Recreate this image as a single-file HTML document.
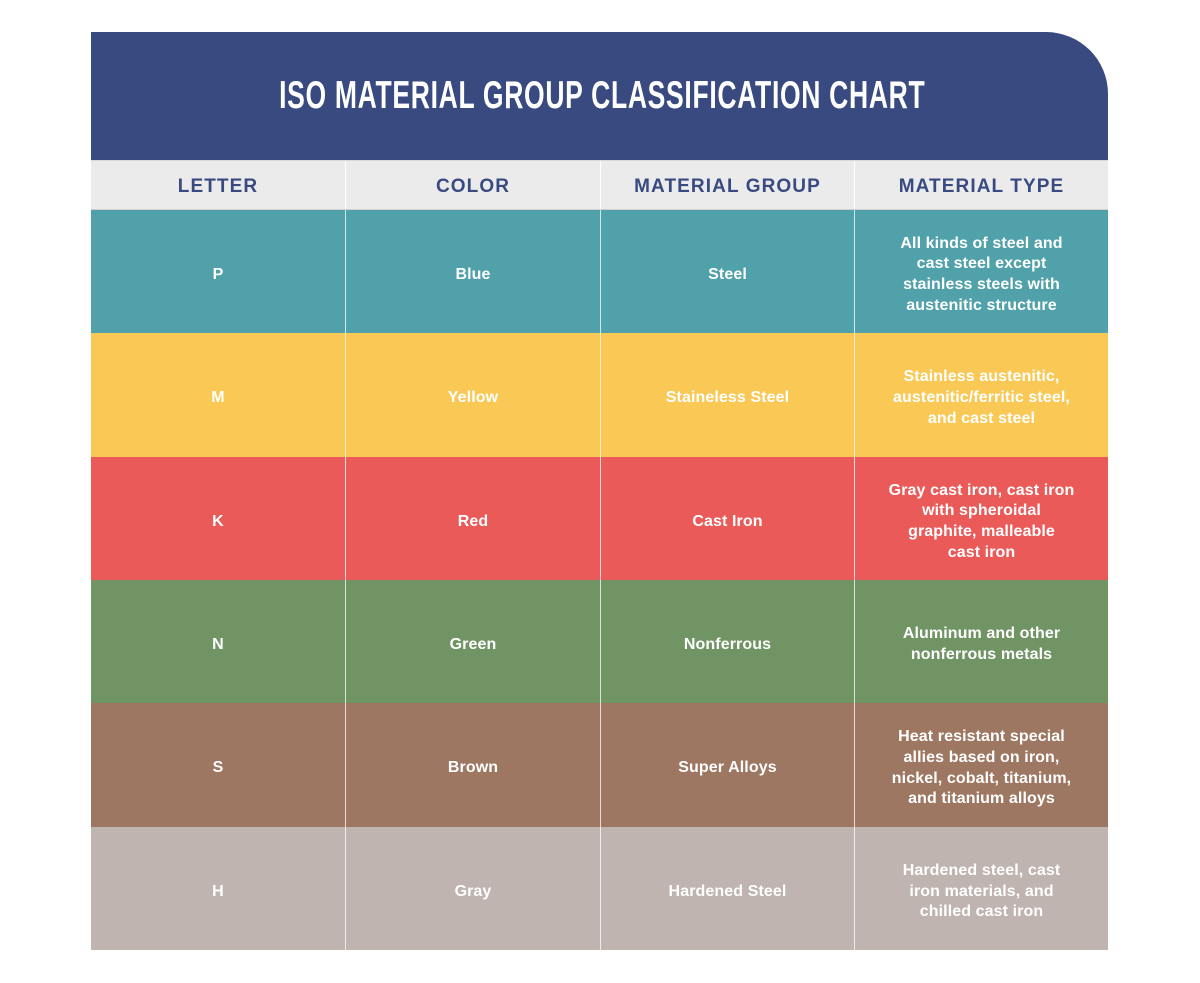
<!DOCTYPE html>
<html><head><style>
body{margin:0;width:1200px;height:983px;background:#fff;position:relative;font-family:"Liberation Sans",sans-serif;overflow:hidden}
.title{position:absolute;left:91px;top:32px;width:1017px;height:128px;background:#394a80;border-top-right-radius:62px;display:flex;align-items:center;justify-content:center}
.title span{display:inline-block;color:#fff;font-weight:bold;font-size:39px;transform:scaleX(0.68);white-space:nowrap;letter-spacing:1px;margin-left:6px}
.row{position:absolute;left:91px;width:1017px;display:flex}
.cell{display:flex;align-items:center;justify-content:center;text-align:center;box-sizing:border-box;color:#fff;font-size:16px;line-height:20.7px;padding-top:7px;font-weight:bold;letter-spacing:0.1px}
.c1{width:254px}.c2{width:255px}.c3{width:254px}.c4{width:254px}
.cell+.cell{border-left:1px solid rgba(255,255,255,0.75)}
.hdr{top:160px;height:50px;background:#ebebeb;border-top:1px solid #d8d8d8;border-bottom:1px solid #d0d0d0;box-sizing:border-box}
.hdr .cell{color:#394a80;font-weight:bold;font-size:19px;padding-top:4px;letter-spacing:1.1px}
.hdr .cell+.cell{border-left:1px solid #fff}
.c4 div{width:240px}
</style></head><body>
<div class="title"><span>ISO MATERIAL GROUP CLASSIFICATION CHART</span></div>
<div class="row hdr"><div class="cell c1">LETTER</div><div class="cell c2">COLOR</div><div class="cell c3">MATERIAL GROUP</div><div class="cell c4">MATERIAL TYPE</div></div>
<div class="row" style="top:210px;height:123px;background:#51a1aa"><div class="cell c1">P</div><div class="cell c2">Blue</div><div class="cell c3">Steel</div><div class="cell c4"><div>All kinds of steel and<br>cast steel except<br>stainless steels with<br>austenitic structure</div></div></div>
<div class="row" style="top:333px;height:124px;background:#f9c855"><div class="cell c1">M</div><div class="cell c2">Yellow</div><div class="cell c3">Staineless Steel</div><div class="cell c4"><div>Stainless austenitic,<br>austenitic/ferritic steel,<br>and cast steel</div></div></div>
<div class="row" style="top:457px;height:123px;background:#ea5a59"><div class="cell c1">K</div><div class="cell c2">Red</div><div class="cell c3">Cast Iron</div><div class="cell c4"><div>Gray cast iron, cast iron<br>with spheroidal<br>graphite, malleable<br>cast iron</div></div></div>
<div class="row" style="top:580px;height:123px;background:#719465"><div class="cell c1">N</div><div class="cell c2">Green</div><div class="cell c3">Nonferrous</div><div class="cell c4"><div>Aluminum and other<br>nonferrous metals</div></div></div>
<div class="row" style="top:703px;height:124px;background:#9e7762"><div class="cell c1">S</div><div class="cell c2">Brown</div><div class="cell c3">Super Alloys</div><div class="cell c4"><div>Heat resistant special<br>allies based on iron,<br>nickel, cobalt, titanium,<br>and titanium alloys</div></div></div>
<div class="row" style="top:827px;height:123px;background:#bfb4b0"><div class="cell c1">H</div><div class="cell c2">Gray</div><div class="cell c3">Hardened Steel</div><div class="cell c4"><div>Hardened steel, cast<br>iron materials, and<br>chilled cast iron</div></div></div>
</body></html>
